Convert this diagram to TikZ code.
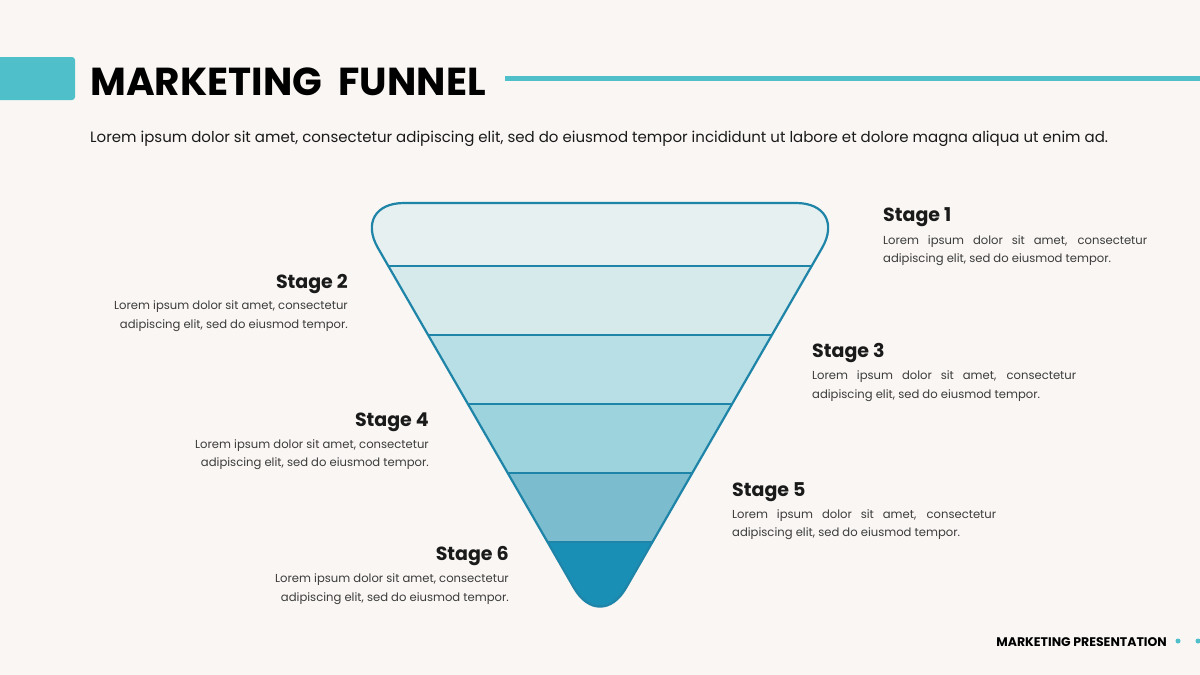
\documentclass[tikz,border=0pt]{standalone}
\usepackage{fontspec}
\setmainfont{Poppins}
\definecolor{bg}{HTML}{F9F6F3}
\definecolor{teal}{HTML}{4FBFCA}
\definecolor{edge}{HTML}{1E84A8}
\definecolor{b1}{HTML}{E6F0F1}
\definecolor{b2}{HTML}{D6EAEC}
\definecolor{b3}{HTML}{B8DFE5}
\definecolor{b4}{HTML}{9CD3DD}
\definecolor{b5}{HTML}{7BBCCE}
\definecolor{b6}{HTML}{1A8FB5}
\definecolor{ink}{HTML}{1A1A1A}
\begin{document}
\begin{tikzpicture}[x=1pt,y=-1pt,
  head/.style={font=\fontsize{19}{20}\selectfont\bfseries, text=ink, inner sep=0},
  body/.style={font=\fontsize{11.6}{18}\selectfont, text=ink!85, inner sep=0}]
\fill[bg] (0,0) rectangle (1200,675);
\useasboundingbox (0,0) rectangle (1200,675);
% title
\fill[teal, rounded corners=3] (-5,57) rectangle (75,100);
\node[anchor=base west, inner sep=0, font=\fontsize{39}{42}\selectfont\bfseries, text=black] (title) at (90,95) {MARKETING\ \ FUNNEL};
\draw[teal, line width=5] (505,78) -- (1200,78);
\node[anchor=base west, inner sep=0, font=\fontsize{15}{16}\selectfont, text=ink] (intro) at (90,142) {Lorem ipsum dolor sit amet, consectetur adipiscing elit, sed do eiusmod tempor incididunt ut labore et dolore magna aliqua ut enim ad.};
% funnel
\def\funnel{(352,203) -- (848,203) -- (600,633) -- cycle}
\begin{scope}
\clip[rounded corners=52] \funnel;
\fill[b1] (330,195) rectangle (870,266);
\fill[b2] (330,266) rectangle (870,335);
\fill[b3] (330,335) rectangle (870,404);
\fill[b4] (330,404) rectangle (870,473);
\fill[b5] (330,473) rectangle (870,542);
\fill[b6] (330,542) rectangle (870,640);
\foreach \y in {266,335,404,473,542}{\draw[edge, line width=2] (330,\y) -- (870,\y);}
\end{scope}
\draw[edge, line width=2.2, rounded corners=52] \funnel;
% right labels
\node[head, anchor=base west] (s1) at (883,221) {Stage 1};
\node[body, anchor=base west] (t1) at (883,244) {\makebox[264pt][s]{Lorem ipsum dolor sit amet, consectetur}};
\node[body, anchor=base west] (u1) at (883,262) {adipiscing elit, sed do eiusmod tempor.};
\node[head, anchor=base west] (s3) at (812,357) {Stage 3};
\node[body, anchor=base west] (t3) at (812,379) {\makebox[264pt][s]{Lorem ipsum dolor sit amet, consectetur}};
\node[body, anchor=base west] (u3) at (812,398) {adipiscing elit, sed do eiusmod tempor.};
\node[head, anchor=base west] (s5) at (732,496) {Stage 5};
\node[body, anchor=base west] (t5) at (732,518) {\makebox[264pt][s]{Lorem ipsum dolor sit amet, consectetur}};
\node[body, anchor=base west] (u5) at (732,536) {adipiscing elit, sed do eiusmod tempor.};
% left labels
\node[head, anchor=base east] (s2) at (348,288) {Stage 2};
\node[body, anchor=base east] (t2) at (348,309) {Lorem ipsum dolor sit amet, consectetur};
\node[body, anchor=base east] (u2) at (348,328) {adipiscing elit, sed do eiusmod tempor.};
\node[head, anchor=base east] (s4) at (429,426) {Stage 4};
\node[body, anchor=base east] (t4) at (429,448) {Lorem ipsum dolor sit amet, consectetur};
\node[body, anchor=base east] (u4) at (429,466) {adipiscing elit, sed do eiusmod tempor.};
\node[head, anchor=base east] (s6) at (509,560) {Stage 6};
\node[body, anchor=base east] (t6) at (509,582) {Lorem ipsum dolor sit amet, consectetur};
\node[body, anchor=base east] (u6) at (509,601) {adipiscing elit, sed do eiusmod tempor.};
% footer
\node[anchor=base east, inner sep=0, font=\fontsize{12.5}{13}\selectfont\bfseries, text=black] (foot) at (1167,646) {MARKETING PRESENTATION};
\fill[teal] (1178,641) circle (2.5);
\fill[teal] (1198,641) circle (2.5);
\end{tikzpicture}
\end{document}
